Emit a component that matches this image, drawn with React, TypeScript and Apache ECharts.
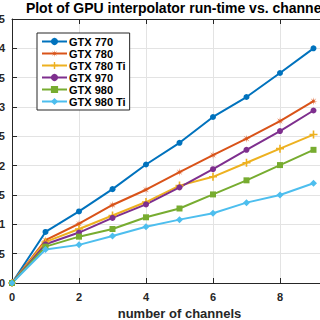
import React, { useEffect, useRef } from "react";
import * as echarts from "echarts";

const channels = [0, 1, 2, 3, 4, 5, 6, 7, 8, 9];
const seriesNames = ["GTX 770", "GTX 780", "GTX 780 Ti", "GTX 970", "GTX 980", "GTX 980 Ti"];
const gtx770 = [0, 0.087, 0.122, 0.16, 0.202, 0.239, 0.283, 0.317, 0.358, 0.4];
const gtx780 = [0, 0.073, 0.101, 0.133, 0.159, 0.189, 0.218, 0.246, 0.276, 0.31];
const gtx780ti = [0, 0.07, 0.092, 0.115, 0.138, 0.166, 0.181, 0.205, 0.229, 0.253];
const gtx970 = [0, 0.066, 0.086, 0.111, 0.134, 0.163, 0.194, 0.227, 0.259, 0.294];
const gtx980 = [0, 0.062, 0.079, 0.092, 0.112, 0.127, 0.151, 0.175, 0.201, 0.227];
const gtx980ti = [0, 0.057, 0.065, 0.08, 0.096, 0.108, 0.119, 0.137, 0.15, 0.17];

const colors = ["#0072BD", "#D95319", "#EDB120", "#7E2F8E", "#77AC30", "#4DBEEE"];
const STAR =
  "path://M10,5 L6.2,5.5 L8.54,8.54 L5.5,6.2 L5,10 L4.5,6.2 L1.46,8.54 L3.8,5.5 L0,5 L3.8,4.5 L1.46,1.46 L4.5,3.8 L5,0 L5.5,3.8 L8.54,1.46 L6.2,4.5 Z";
const PLUS = "path://M4,0h2v4h4v2h-4v4h-2v-4h-4v-2h4z";
const symbols = ["circle", STAR, PLUS, "circle", "rect", "diamond"];
const symbolSizes = [6, 8, 8, 6, 6, 7];

const FONT = "'Liberation Sans', Arial, Helvetica, sans-serif";

export default function App() {
  const ref = useRef<HTMLDivElement>(null);
  useEffect(() => {
    document.body.style.margin = "0";
    const chart = echarts.init(ref.current!, null, { renderer: "svg" });
    const allData = [gtx770, gtx780, gtx780ti, gtx970, gtx980, gtx980ti];
    const gridLeft = 12;
    const gridRight = -27;
    const plotCenter = gridLeft + (320 - gridLeft - gridRight) / 2;
    const axisCommon = {
      min: 0,
      max: 10,
      interval: 2,
      axisLine: { show: true, lineStyle: { color: "#262626", width: 1 } },
      axisTick: { show: true, inside: true, length: 5, lineStyle: { color: "#262626" } },
    };
    chart.setOption({
      animation: false,
      backgroundColor: "#ffffff",
      graphic: [
        {
          type: "text",
          x: plotCenter,
          y: 8,
          style: {
            text: "Plot of GPU interpolator run-time vs. channels",
            textAlign: "center",
            textVerticalAlign: "middle",
            font: `bold 14px ${FONT}`,
            fill: "#000",
          },
        },
      ],
      grid: {
        left: gridLeft,
        right: gridRight,
        top: 19,
        bottom: 37,
        containLabel: false,
        outerBoundsMode: "none",
      },
      legend: {
        orient: "vertical",
        left: 37,
        top: 33,
        padding: [3, 4, 3, 4],
        itemWidth: 25,
        itemHeight: 9,
        itemGap: 1,
        borderColor: "#262626",
        borderWidth: 1,
        backgroundColor: "#ffffff",
        textStyle: { fontFamily: FONT, fontSize: 11, fontWeight: "bold", color: "#000", padding: [0, 0, 0, -3] },
        data: seriesNames,
      },
      xAxis: [
        {
          type: "value",
          position: "bottom",
          ...axisCommon,
          name: "number of channels",
          nameLocation: "middle",
          nameGap: 22,
          nameTextStyle: { fontFamily: FONT, fontSize: 13, fontWeight: "bold", color: "#262626" },
          axisLabel: {
            margin: 8,
            fontFamily: FONT,
            fontSize: 11,
            fontWeight: "bold",
            color: "#262626",
          },
          splitLine: { show: true, lineStyle: { color: "#e3e3e3", width: 1 } },
        },
        {
          type: "value",
          position: "top",
          ...axisCommon,
          axisLabel: { show: false },
          splitLine: { show: false },
        },
      ],
      yAxis: {
        type: "value",
        min: 0,
        max: 0.45,
        interval: 0.05,
        axisLine: { show: true, lineStyle: { color: "#262626", width: 1 } },
        axisTick: { show: true, inside: true, length: 5, lineStyle: { color: "#262626" } },
        axisLabel: {
          margin: 7,
          fontFamily: FONT,
          fontSize: 11,
          fontWeight: "bold",
          color: "#262626",
          formatter: (v: number) => (v === 0 ? "0" : String(Number(v.toFixed(2)))),
        },
        splitLine: { show: true, lineStyle: { color: "#e3e3e3", width: 1 } },
      },
      series: allData.map((d, i) => ({
        name: seriesNames[i],
        type: "line",
        xAxisIndex: 0,
        data: channels.map((c, j) => [c, d[j]]),
        symbol: symbols[i],
        symbolSize: symbolSizes[i],
        showAllSymbol: true,
        lineStyle: { color: colors[i], width: 2 },
        itemStyle: { color: colors[i], borderWidth: 0 },
        emphasis: { disabled: true },
      })),
    });
    return () => chart.dispose();
  }, []);
  return (
    <div
      ref={ref}
      style={{ position: "absolute", left: 0, top: 0, width: 320, height: 320, overflow: "hidden" }}
    />
  );
}
